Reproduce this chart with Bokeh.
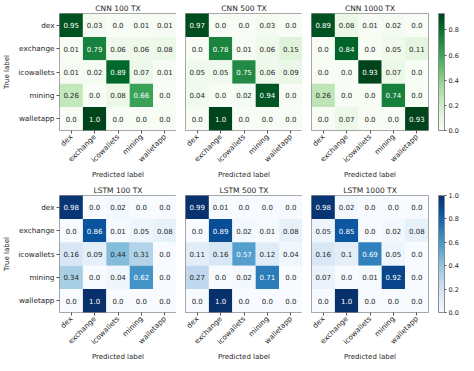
import numpy as np
from bokeh.plotting import figure
from bokeh.models import (ColumnDataSource, LinearColorMapper, ColorBar,
                          FixedTicker, PrintfTickFormatter)
from bokeh.layouts import column, row
from bokeh.palettes import Greens256, Blues256
from bokeh.transform import transform
from bokeh.core.properties import value
from bokeh.embed import file_html
from bokeh.resources import INLINE

labels = ["dex", "exchange", "icowallets", "mining", "walletapp"]

cnn_100 = [[0.95, 0.03, 0.0, 0.01, 0.01],
           [0.01, 0.79, 0.06, 0.06, 0.08],
           [0.01, 0.02, 0.89, 0.07, 0.01],
           [0.26, 0.0, 0.08, 0.66, 0.0],
           [0.0, 1.0, 0.0, 0.0, 0.0]]
cnn_500 = [[0.97, 0.0, 0.0, 0.03, 0.0],
           [0.0, 0.78, 0.01, 0.06, 0.15],
           [0.05, 0.05, 0.75, 0.06, 0.09],
           [0.04, 0.0, 0.02, 0.94, 0.0],
           [0.0, 1.0, 0.0, 0.0, 0.0]]
cnn_1000 = [[0.89, 0.08, 0.01, 0.02, 0.0],
            [0.0, 0.84, 0.0, 0.05, 0.11],
            [0.0, 0.0, 0.93, 0.07, 0.0],
            [0.26, 0.0, 0.0, 0.74, 0.0],
            [0.0, 0.07, 0.0, 0.0, 0.93]]
lstm_100 = [[0.98, 0.0, 0.02, 0.0, 0.0],
            [0.0, 0.86, 0.01, 0.05, 0.08],
            [0.16, 0.09, 0.44, 0.31, 0.0],
            [0.34, 0.0, 0.04, 0.62, 0.0],
            [0.0, 1.0, 0.0, 0.0, 0.0]]
lstm_500 = [[0.99, 0.01, 0.0, 0.0, 0.0],
            [0.0, 0.89, 0.02, 0.01, 0.08],
            [0.11, 0.16, 0.57, 0.12, 0.04],
            [0.27, 0.0, 0.02, 0.71, 0.0],
            [0.0, 1.0, 0.0, 0.0, 0.0]]
lstm_1000 = [[0.98, 0.02, 0.0, 0.0, 0.0],
             [0.05, 0.85, 0.0, 0.02, 0.08],
             [0.16, 0.1, 0.69, 0.05, 0.0],
             [0.07, 0.0, 0.01, 0.92, 0.0],
             [0.0, 1.0, 0.0, 0.0, 0.0]]

cnn_titles = ["CNN 100 TX", "CNN 500 TX", "CNN 1000 TX"]
lstm_titles = ["LSTM 100 TX", "LSTM 500 TX", "LSTM 1000 TX"]
cnn_cbar_ticks = [0.0, 0.2, 0.4, 0.6, 0.8]
lstm_cbar_ticks = [0.0, 0.2, 0.4, 0.6, 0.8, 1.0]

FONT = "DejaVu Sans"
FONT_V = value(FONT)
TXT = "#262626"
FW, FH = 117, 117


def make(mat, title, palette, col, bottom, cbar_ticks):
    vmax = float(np.max(mat))
    mapper = LinearColorMapper(palette=palette, low=0, high=vmax)
    xs, ys, vs, ts, cs = [], [], [], [], []
    for i, tl in enumerate(labels):
        for j, pl in enumerate(labels):
            v = mat[i][j]
            xs.append(pl)
            ys.append(tl)
            vs.append(v)
            ts.append(str(v))
            cs.append("white" if v > vmax / 2 else TXT)
    src = ColumnDataSource(dict(x=xs, y=ys, v=vs, t=ts, c=cs))
    left = 50 if col == 0 else 9
    right = 36 if col == 2 else 0
    p = figure(x_range=labels, y_range=labels[::-1],
               frame_width=FW, frame_height=FH,
               min_border_left=left, min_border_right=right,
               min_border_top=12, min_border_bottom=bottom,
               toolbar_location=None, output_backend="svg", title=title)
    p.rect("x", "y", 1, 1, source=src, line_color=None,
           fill_color=transform("v", mapper))
    p.text("x", "y", text="t", source=src, text_color="c",
           text_align="center", text_baseline="middle",
           text_font_size="7px", text_font=FONT_V)
    p.title.text_font = FONT
    p.title.text_font_size = "7.5px"
    p.title.text_font_style = "normal"
    p.title.text_color = TXT
    p.title.align = "center"
    p.title.standoff = 2
    p.grid.visible = False
    p.outline_line_color = "#8c8c8c"
    p.outline_line_width = 1
    p.background_fill_color = "white"
    for ax in (p.xaxis[0], p.yaxis[0]):
        ax.axis_line_color = None
        ax.major_tick_in = 0
        ax.major_tick_out = 3
        ax.major_tick_line_color = "#555555"
        ax.minor_tick_line_color = None
        ax.major_label_text_font = FONT
        ax.major_label_text_font_size = "7.3px"
        ax.major_label_text_color = TXT
        ax.axis_label_text_font = FONT
        ax.axis_label_text_font_size = "7px"
        ax.axis_label_text_font_style = "normal"
        ax.axis_label_text_color = TXT
    p.xaxis.major_label_orientation = np.pi / 4
    p.xaxis.major_label_standoff = 2
    p.xaxis.axis_label = "Predicted label"
    p.xaxis.axis_label_standoff = 1
    if col == 0:
        p.yaxis.axis_label = "True label"
        p.yaxis.axis_label_standoff = 4
        p.yaxis.major_label_standoff = 2
    else:
        p.yaxis.visible = False
    if col == 2:
        cb = ColorBar(color_mapper=mapper, width=6, height=FH,
                      padding=0, margin=0,
                      ticker=FixedTicker(ticks=cbar_ticks),
                      formatter=PrintfTickFormatter(format="%.1f"),
                      major_label_text_font=FONT,
                      major_label_text_font_size="6.5px",
                      major_label_text_color=TXT,
                      major_tick_in=0, major_tick_out=2,
                      major_tick_line_color="#555555",
                      bar_line_color="#8c8c8c",
                      border_line_color=None,
                      label_standoff=2,
                      location=(10, 0))
        p.add_layout(cb, "right")
    return p


Gp = Greens256[::-1]
Bp = Blues256[::-1]
top_row = row(
    make(cnn_100, cnn_titles[0], Gp, 0, 52, cnn_cbar_ticks),
    make(cnn_500, cnn_titles[1], Gp, 1, 52, cnn_cbar_ticks),
    make(cnn_1000, cnn_titles[2], Gp, 2, 52, cnn_cbar_ticks),
)
bot_row = row(
    make(lstm_100, lstm_titles[0], Bp, 0, 44, lstm_cbar_ticks),
    make(lstm_500, lstm_titles[1], Bp, 1, 44, lstm_cbar_ticks),
    make(lstm_1000, lstm_titles[2], Bp, 2, 44, lstm_cbar_ticks),
)
layout = column(top_row, bot_row)
open("out.html", "w").write(file_html(layout, INLINE))
